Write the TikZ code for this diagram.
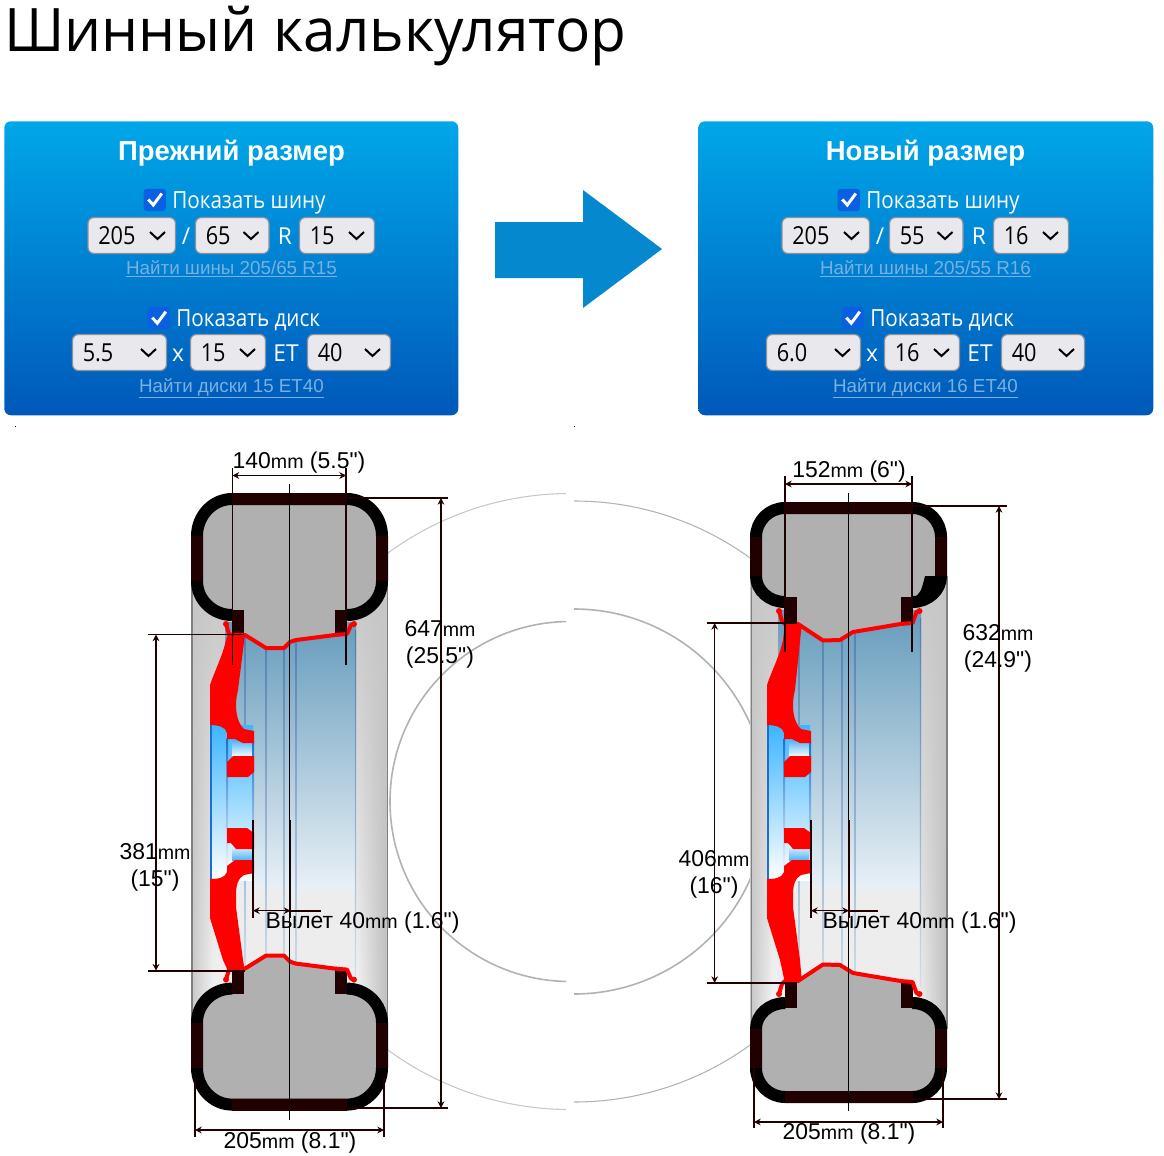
\documentclass[tikz,border=0pt]{standalone}
\usepackage{fontspec}
\setmainfont[Ligatures=TeXOff]{Liberation Sans}
\newfontfamily\uifont[FakeStretch=0.875]{Open Sans}
\newfontfamily\headfont[FakeStretch=0.975]{Open Sans}
\usetikzlibrary{
    arrows.meta,
    calc,
    fadings,
    positioning
}
\definecolor{dimdark}{HTML}{200000}
\definecolor{tyregray}{HTML}{B0B0B0}
\definecolor{selfill}{HTML}{E9E9ED}
\definecolor{selline}{HTML}{8F8F9D}
\definecolor{checkblue}{HTML}{0A60E0}
\definecolor{linkblue}{HTML}{78B0E0}
\definecolor{panelbottom}{HTML}{0058B9}
\definecolor{paneltop}{HTML}{00A7E9}
\definecolor{hubblue}{HTML}{1A6FD0}
\definecolor{arrowblue}{HTML}{0588CD}
\tikzset{
    selfield/.style={rectangle, rounded corners=4.5pt, draw=selline, line width=0.9pt, fill=selfill, minimum height=27pt, inner sep=0pt, outer sep=0pt},
    seltext/.style={font=\uifont\fontsize{18.6}{20}\selectfont, text=black, inner sep=0pt},
    selchev/.style={draw=black, line width=1.5pt},
    chkfield/.style={rectangle, rounded corners=2.5pt, fill=checkblue, minimum size=16.8pt, inner sep=0pt, anchor=north west},
    chktext/.style={font=\uifont\fontsize{17.7}{20}\selectfont, text=white, inner sep=0pt, anchor=base west},
    sepmark/.style={font=\headfont\fontsize{17.5}{20}\selectfont, text=white, inner sep=0pt, anchor=base},
    findlink/.style={font=\fontsize{14.1}{18}\selectfont, text=linkblue, inner sep=0pt, anchor=base},
    dimline/.style={draw=dimdark, line width=1.2pt},
    dimarrow/.style={draw=dimdark, line width=0.9pt, {Stealth[length=5pt,width=5pt]}-{Stealth[length=5pt,width=5pt]}},
    dimtext/.style={font=\fontsize{17.2}{20.2}\selectfont, text=black, inner sep=0pt, align=center},
    tyreline/.style={line width=9pt}
}
\newcommand{\mmtxt}[2]{#1{\fontsize{14.7}{15}\selectfont mm}#2}
\newcommand{\selbox}[5]{
    \node[selfield, anchor=north west, minimum width={(#3-#2)*0.75pt}] (#1) at (#2,#4) {};
    \node[seltext, anchor=base west] (#1t) at ($(#1.west)+(10,9)$) {#5};
    \draw[selchev] ($(#1.east)+(-25.5,-3.5)$) -- ($(#1.east)+(-18,3.5)$) -- ($(#1.east)+(-10.5,-3.5)$);
}
\newcommand{\chkbox}[3]{
    \node[chkfield] (#1) at (#2,#3) {};
    \draw[white, line width=2.2pt] ($(#1.north west)+(5,11)$) -- ($(#1.north west)+(10,16.5)$) -- ($(#1.north west)+(18.5,5)$);
}
\newcommand{\panelframe}[3]{
    \node[rectangle, rounded corners=5pt, top color=paneltop, bottom color=panelbottom, anchor=north west, minimum width={#3*0.75pt}, minimum height=220.5pt, inner sep=0pt] (#1) at (4,121) {};
    \node[font=\bfseries\fontsize{20.6}{24}\selectfont, text=white, inner sep=0pt, anchor=base] (#1t) at (231.5,160) {#2};
}
\newcommand{\tyrerow}[5]{
    \chkbox{#1c}{143.3}{188.5}
    \node[chktext] (#1cl) at (172,208) {Показать шину};
    \selbox{#1w}{88}{175.5}{217.5}{#2}
    \node[sepmark] (#1s) at (186,244) {/};
    \selbox{#1a}{195.5}{269}{217.5}{#3}
    \node[sepmark] (#1r) at (285,244) {R};
    \selbox{#1d}{299.5}{374.5}{217.5}{#4}
    \node[findlink] (#1l) at (231.5,274) {\underline{#5}};
}
\newcommand{\diskrow}[5]{
    \chkbox{#1e}{147.3}{306.7}
    \node[chktext] (#1el) at (176,326) {Показать диск};
    \selbox{#1p}{72.5}{166.5}{334.5}{#2}
    \node[sepmark] (#1x) at (178,361) {x};
    \selbox{#1q}{190.5}{265.5}{334.5}{#3}
    \node[sepmark] (#1m) at (286,361) {ET};
    \selbox{#1o}{307.5}{390.5}{334.5}{#4}
    \node[findlink] (#1k) at (231.5,392) {\underline{#5}};
}
\newcommand{\sidewall}[3]{
    \fill[white!96!black] (#1,#2) rectangle (#1+197,#3);
    \shade[left color=black!22, right color=black!4] (#1,#2) rectangle (#1+22,#3);
    \shade[left color=white, right color=black!24] (#1+160,#2) rectangle (#1+194,#3);
    \fill[black!24] (#1+194,#2) rectangle (#1+197,#3);
    \fill[black!22, path fading=south] (#1,#2) rectangle (#1+197,#3);
    \fill[black!50] (#1,#2) rectangle (#1+1.5,#3);
    \fill[black!50] (#1+195.5,#2) rectangle (#1+197,#3);
}
\newcommand{\barrel}[3]{
    \fill[white!93!black] (#1,#2) rectangle (#1+#3,985);
    \shade[top color={rgb,255:red,102;green,156;blue,188}, bottom color={rgb,255:red,232;green,240;blue,246}] (#1,#2) rectangle (#1+#3,888);
}
\newcommand{\rimdisk}[2]{
    \shade[top color={rgb,255:red,61;green,181;blue,255}, middle color={rgb,255:red,240;green,248;blue,255}, bottom color=white] (210,725) rectangle (253,880);
    \shade[top color={rgb,255:red,80;green,180;blue,250}, bottom color=white] (232,740) rectangle (253,757);
    \shade[top color=white, bottom color={rgb,255:red,80;green,180;blue,250}] (232,843) rectangle (253,860);
    \fill[hubblue] (210,725) rectangle (212,880);
    \shade[top color=hubblue, bottom color=hubblue!10] (226.5,738) rectangle (228,866);
    \shade[top color=hubblue, bottom color=hubblue!20] (252,740) rectangle (254,860);
    \fill[red] (228,#1) -- (245,#1) -- (238,690) .. controls (234,705) and (236,722) .. (244,729) -- (254,731) -- (254,743) -- (243,743) -- (235,739) -- (227,739) -- (227,733) .. controls (226,727) and (218,725) .. (210,725) -- (210,685) .. controls (215,670) and (223,655) .. (226,640) -- cycle;
    \fill[red] (227,762) -- (233,756) -- (254,756) -- (254,772) -- (248,777) -- (227,777) -- cycle;
    \fill[red] (227,828) -- (247,828) -- (254,833) -- (254,849) -- (236,849) -- (231,843) -- (227,843) -- cycle;
    \fill[red] (254,860) -- (254,873) -- (244,875) .. controls (238,878) and (236,885) .. (236,895) -- (236,907) -- (243,960) -- (245,#2) -- (228,#2) -- (223,960) -- (210,918) -- (210,879) .. controls (218,879) and (225,878) .. (227,872) -- (227,866) -- (235,860) -- cycle;
}
\newcommand{\tyre}[9]{
    \fill[tyregray] (#2+12,#8) -- #9 -- (#3-12,#8) -- (#3,#7-6) .. controls ({#3+0.55*(#1+191-#3)},#7-6) and (#1+191,{#6+0.45*(#7-6-#6)}) .. (#1+191,#6) -- (#1+191,#5) .. controls (#1+191,{#5-0.55*(#5-#4-6)}) and ({#3+0.55*(#1+191-#3)},#4+6) .. (#3,#4+6) -- (#2,#4+6) .. controls ({#2-0.55*(#2-#1-6)},#4+6) and (#1+6,{#5-0.55*(#5-#4-6)}) .. (#1+6,#5) -- (#1+6,#6) .. controls (#1+6,{#6+0.55*(#7-6-#6)}) and ({#2-0.55*(#2-#1-6)},#7-6) .. (#2,#7-6) -- cycle;
    \draw[tyreline] (#3,#7-6) .. controls ({#3+0.55*(#1+191-#3)},#7-6) and (#1+191,{#6+0.55*(#7-6-#6)}) .. (#1+191,#6) -- (#1+191,#5) .. controls (#1+191,{#5-0.55*(#5-#4-6)}) and ({#3+0.55*(#1+191-#3)},#4+6) .. (#3,#4+6) -- (#2,#4+6) .. controls ({#2-0.55*(#2-#1-6)},#4+6) and (#1+6,{#5-0.55*(#5-#4-6)}) .. (#1+6,#5) -- (#1+6,#6) .. controls (#1+6,{#6+0.55*(#7-6-#6)}) and ({#2-0.55*(#2-#1-6)},#7-6) .. (#2,#7-6);
    \fill[dimdark] (#2,#4) rectangle (#3,#4+12);
    \fill[dimdark] (#1,#5) rectangle (#1+12,#6);
    \fill[dimdark] (#1+185,#5) rectangle (#1+197,#6);
    \fill[dimdark] (#2,#7-11) rectangle (#2+12,#8);
    \fill[dimdark] (#3-12,#7-11) rectangle (#3,#8);
    \draw[red, line width=3pt, line join=round, line cap=round] (#2-6,#7+3) -- (#2-3,#7+13) -- (#2,#8) -- (#2+13,#8) -- #9 -- (#3-12,#8) -- (#3,#8-1) -- (#3+4,#7+4) -- (#3+7,#7+3);
    \fill[red] (#2-6,#7+3) circle[radius=3];
    \fill[red] (#3+7,#7+3) circle[radius=3];
}
\begin{document}
\begin{tikzpicture}[x=0.75pt, y=-0.75pt]
    \useasboundingbox (0,0) rectangle (1164,1156);
    \node[font=\headfont\fontsize{45}{50}\selectfont, inner sep=0pt, anchor=base west] (title) at (4,52) {Шинный калькулятор};
    \panelframe{lp}{Прежний размер}{454}
    \tyrerow{lp}{205}{65}{15}{Найти шины 205/65 R15}
    \diskrow{lp}{5.5}{15}{40}{Найти диски 15 ET40}
    \begin{scope}[shift={(694,0)}]
        \panelframe{rp}{Новый размер}{455}
        \tyrerow{rp}{205}{55}{16}{Найти шины 205/55 R16}
        \diskrow{rp}{6.0}{16}{40}{Найти диски 16 ET40}
    \end{scope}
    \fill[arrowblue] (495,222) -- (583,222) -- (583,190) -- (662,249) -- (583,308) -- (583,278) -- (495,278) -- cycle;
    \fill[black] (14.5,425.5) rectangle (16,427);
    \fill[black] (573.5,425.5) rectangle (575,427);
    \begin{scope}
        \clip (380,480) rectangle (566,1120);
        \draw[black!22, line width=0.8pt] (570,801.5) circle[radius=308];
        \draw[black!30, line width=1.2pt] (570,801.5) circle[radius=180];
    \end{scope}
    \begin{scope}
        \clip (574,480) rectangle (770,1120);
        \draw[black!30, line width=0.8pt] (574,801.5) circle[radius=300.5];
        \draw[black!30, line width=1.2pt] (574,801.5) circle[radius=192.5];
    \end{scope}
    \sidewall{191}{581}{1022}
    \barrel{225}{622}{131}
    \foreach \barx in {245,266,284,296,355.5}
        \shade[top color={rgb,255:red,80;green,125;blue,175}, bottom color={rgb,255:red,205;green,222;blue,235}] (\barx-0.7,630) rectangle (\barx+0.7,975);
    \rimdisk{634}{971}
    \tyre{191}{232}{347}{493}{536}{581}{621}{635}{(266,648)--(284,648)--(290,642)--(296,640)}
    \begin{scope}[shift={(0,1603.6)}, yscale=-1]
        \tyre{191}{232}{347}{493}{536}{581}{621}{635}{(266,648)--(284,648)--(290,642)--(296,640)}
    \end{scope}
    \draw[black, line width=0.7pt] (289.5,484) -- (289.5,1120);
    \draw[dimline] (232.5,468) -- (232.5,665);
    \draw[dimline] (346,468) -- (346,665);
    \draw[dimarrow] (232.5,475.5) -- (346,475.5);
    \draw[dimline] (347,498) -- (448,498);
    \draw[dimline] (345,1108) -- (448,1108);
    \draw[dimarrow] (441,498) -- (441,1108);
    \draw[dimline] (148,634.5) -- (244,634.5);
    \draw[dimline] (148,970.7) -- (245,970.7);
    \draw[dimarrow] (156,634.5) -- (156,970.7);
    \draw[dimline] (253,820) -- (253,918);
    \draw[dimline] (290.5,820) -- (290.5,918);
    \draw[dimline] (290,910.7) -- (321,910.7);
    \draw[dimarrow] (253,910.7) -- (290.5,910.7);
    \draw[dimline] (195,1078) -- (195,1137);
    \draw[dimline] (384,1078) -- (384,1137);
    \draw[dimarrow] (195,1130) -- (384,1130);
    \node[dimtext] (lwidth) at (299,463) {\mmtxt{140}{ (5.5")}};
    \node[dimtext] (lheight) at (440,644) {\mmtxt{647}{}\\(25.5")};
    \node[dimtext] (lrim) at (155,867) {\mmtxt{381}{}\\(15")};
    \node[dimtext] (loffset) at (362.5,923) {Вылет \mmtxt{40}{ (1.6")}};
    \node[dimtext] (ltread) at (290,1143) {\mmtxt{205}{ (8.1")}};
    \sidewall{750.5}{576}{1029}
    \barrel{778}{610}{143}
    \foreach \barx in {799,823,842,855,920.5}
        \shade[top color={rgb,255:red,80;green,125;blue,175}, bottom color={rgb,255:red,205;green,222;blue,235}] (\barx-0.7,618) rectangle (\barx+0.7,986);
    \begin{scope}[shift={(557,0)}]
        \rimdisk{622}{983}
    \end{scope}
    \tyre{750}{785}{912.5}{502}{537}{576}{608}{624}{(823,640.5)--(840,640)--(853,632)}
    \fill[black] (925,576) -- (936,576) -- (936,590) -- (913,606) -- (913,599) .. controls (921,592) .. (925,576) -- cycle;
    \begin{scope}[shift={(0,1605)}, yscale=-1]
        \tyre{750}{785}{912.5}{502}{537}{576}{608}{624}{(823,640.5)--(840,640)--(853,632)}
    \end{scope}
    \draw[black, line width=0.7pt] (848.5,493) -- (848.5,1111);
    \draw[dimline] (785,476) -- (785,652);
    \draw[dimline] (912,476) -- (912,652);
    \draw[dimarrow] (785,484) -- (912,484);
    \draw[dimline] (912,506) -- (1007,506);
    \draw[dimline] (911,1099) -- (1007,1099);
    \draw[dimarrow] (999,506) -- (999,1099);
    \draw[dimline] (707,623) -- (797,623);
    \draw[dimline] (707,983) -- (797,983);
    \draw[dimarrow] (714.7,623) -- (714.7,983);
    \draw[dimline] (811,820) -- (811,918);
    \draw[dimline] (849,820) -- (849,918);
    \draw[dimline] (849,910.7) -- (878,910.7);
    \draw[dimarrow] (811,910.7) -- (849,910.7);
    \draw[dimline] (754,1068) -- (754,1128);
    \draw[dimline] (943,1068) -- (943,1128);
    \draw[dimarrow] (754,1122) -- (943,1122);
    \node[dimtext] (rwidth) at (849,472) {\mmtxt{152}{ (6")}};
    \node[dimtext] (rheight) at (998,648) {\mmtxt{632}{}\\(24.9")};
    \node[dimtext] (rrim) at (714,874) {\mmtxt{406}{}\\(16")};
    \node[dimtext] (roffset) at (919.5,923) {Вылет \mmtxt{40}{ (1.6")}};
    \node[dimtext] (rtread) at (849,1134) {\mmtxt{205}{ (8.1")}};
\end{tikzpicture}
\end{document}
